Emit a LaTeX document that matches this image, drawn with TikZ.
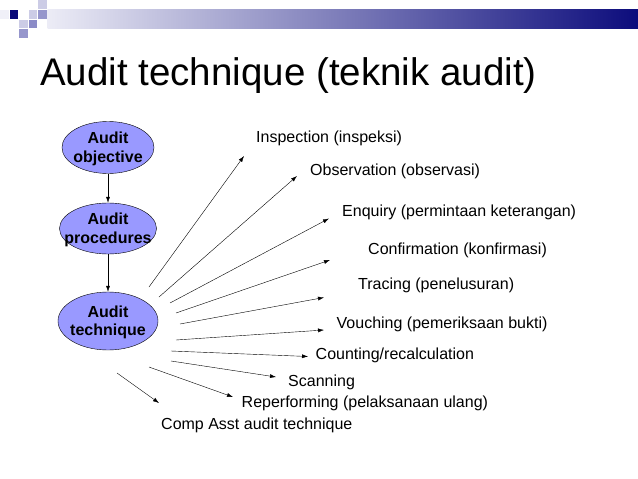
\documentclass[tikz,border=0pt]{standalone}
\usepackage{fontspec}
\setmainfont{Liberation Sans}
\usepackage{tikz}
\usetikzlibrary{shapes.geometric, arrows.meta}

\definecolor{stagefill}{RGB}{153,153,255}
\definecolor{bandlight}{RGB}{236,236,246}
\definecolor{bandmid}{RGB}{140,140,200}
\definecolor{bandnavy}{RGB}{12,12,124}
\definecolor{tilefaint}{RGB}{240,240,248}
\definecolor{tilelight}{RGB}{204,204,230}
\definecolor{tilemid}{RGB}{150,150,204}
\definecolor{tiledark}{RGB}{10,10,120}

\begin{document}
\begin{tikzpicture}[x=1pt, y=-1pt,
		stage/.style = {ellipse, draw, fill=stagefill, inner sep=0pt},
		stagetext/.style = {font=\fontsize{16}{18.5}\selectfont\bfseries, align=center, yshift=-1.5pt},
		item/.style = {anchor=base west, inner sep=0pt, font=\fontsize{16}{19}\selectfont},
		link/.style = {-{Latex[length=6pt, width=4pt]}}]
			\useasboundingbox (0,0) rectangle (638,479);

			% banner
			\fill [tilefaint] (0,10) rectangle (8.5,18.5);
			\fill [tilelight] (38,0) rectangle (46.5,8.5);
			\fill [tiledark] (9.5,10) rectangle (18,18.5);
			\fill [tilelight] (28.5,10) rectangle (37,18.5);
			\fill [tilemid] (38,10) rectangle (46.5,18.5);
			\fill [tilelight] (19,19.5) rectangle (27.5,28);
			\fill [tilemid!110] (28.5,19.5) rectangle (37,28);
			\fill [tilemid] (19,29) rectangle (27.5,37.5);
			\shade [left color=bandlight, middle color=bandmid, right color=bandnavy] (47.5,9.5) rectangle (638,28.5);

			\node [anchor=base west, inner sep=0pt, font=\fontsize{38.5}{46}\selectfont] (title) at (40,85) {Audit technique (teknik audit)};

			% left column
			\node [stage, minimum width=92pt, minimum height=52pt, label={[stagetext]center:Audit\\objective}] (objective) at (108,147.5) {};
			\node [stage, minimum width=97pt, minimum height=51pt, label={[stagetext]center:Audit\\procedures}] (procedures) at (108,228.5) {};
			\node [stage, minimum width=100pt, minimum height=58pt, label={[stagetext]center:Audit\\technique}] (technique) at (108,321) {};
			\draw [link] (objective) to (procedures);
			\draw [link] (procedures) to (technique);

			% techniques
			\node [item] (inspection) at (256,142.5) {Inspection (inspeksi)};
			\node [item] (observation) at (310,175) {Observation (observasi)};
			\node [item] (enquiry) at (342,216) {Enquiry (permintaan keterangan)};
			\node [item] (confirmation) at (368,254) {Confirmation (konfirmasi)};
			\node [item] (tracing) at (358,289.5) {Tracing (penelusuran)};
			\node [item] (vouching) at (336.5,328) {Vouching (pemeriksaan bukti)};
			\node [item] (counting) at (315.5,359) {Counting/recalculation};
			\node [item] (scanning) at (288,386.5) {Scanning};
			\node [item] (reperforming) at (241.5,407.5) {Reperforming (pelaksanaan ulang)};
			\node [item] (caat) at (161,429) {Comp Asst audit technique};

			% fan of arrows
			\coordinate (from1) at (149,287);  \coordinate (to1) at (244,156);
			\coordinate (from2) at (159,297);  \coordinate (to2) at (297,176);
			\coordinate (from3) at (170,303);  \coordinate (to3) at (329,218.5);
			\coordinate (from4) at (176,313);  \coordinate (to4) at (330,260);
			\coordinate (from5) at (180,324);  \coordinate (to5) at (324,297.5);
			\coordinate (from6) at (176,340);  \coordinate (to6) at (324,330);
			\coordinate (from7) at (171,351);  \coordinate (to7) at (308,356.5);
			\coordinate (from8) at (171,361);  \coordinate (to8) at (276,377);
			\coordinate (from9) at (149,367);  \coordinate (to9) at (233,397);
			\coordinate (from10) at (117,373); \coordinate (to10) at (159,403);
			\foreach \i in {1,...,10}
				\draw [link] (from\i) to (to\i);
		\end{tikzpicture}
\end{document}
